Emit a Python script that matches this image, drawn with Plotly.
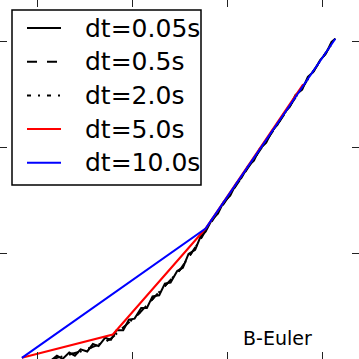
import plotly.graph_objects as go

# ---- data (axis units arbitrary, tick labels are cropped) ----
x_dt005 = [0.13, 0.20, 0.26, 0.33, 0.39, 0.45, 0.52, 0.58, 0.64, 0.71, 0.77, 0.83, 0.90,
           0.96, 1.02, 1.09, 1.15, 1.21, 1.28, 1.34, 1.40, 1.47, 1.53, 1.59, 1.66, 1.72,
           1.77, 1.84, 1.90, 1.96, 2.03, 2.09, 2.15, 2.22, 2.28, 2.34, 2.41, 2.47, 2.53,
           2.60, 2.66, 2.72, 2.79, 2.85, 2.91, 2.98, 3.04, 3.10, 3.14]
y_dt005 = [-1.01, -0.96, -0.99, -0.93, -0.96, -0.90, -0.92, -0.85, -0.87, -0.79, -0.81,
           -0.72, -0.72, -0.62, -0.61, -0.51, -0.51, -0.40, -0.39, -0.28, -0.27, -0.16,
           -0.13, 0.00, 0.04, 0.17, 0.21, 0.33, 0.38, 0.49, 0.55, 0.66, 0.72, 0.83, 0.88,
           0.99, 1.05, 1.16, 1.22, 1.33, 1.39, 1.50, 1.55, 1.67, 1.72, 1.83, 1.89, 2.00, 2.03]

x_dt05 = [0.13, 0.20, 0.45, 0.63, 0.77, 1.08, 1.50, 1.69, 1.77, 3.14]
y_dt05 = [-1.01, -0.98, -0.92, -0.86, -0.80, -0.55, -0.15, 0.10, 0.22, 2.03]

x_dt20 = [0.13, 0.20, 0.45, 0.63, 0.77, 1.08, 1.50, 1.69, 1.77, 3.14]
y_dt20 = [-1.01, -0.98, -0.92, -0.86, -0.80, -0.55, -0.15, 0.10, 0.23, 2.03]

x_dt50 = [-0.17, 0.79, 1.77, 2.80]
y_dt50 = [-0.98, -0.76, 0.24, 1.60]

x_dt100 = [-0.17, 1.77, 3.14]
y_dt100 = [-0.98, 0.24, 2.03]

labels = ["dt=0.05s", "dt=0.5s", "dt=2.0s", "dt=5.0s", "dt=10.0s"]
colors = ["black", "black", "black", "#ff0000", "#0000ff"]
dashes = ["solid", "10px,10px", "4px,7px,2px,7px", "solid", "solid"]
xs_all = [x_dt005, x_dt05, x_dt20, x_dt50, x_dt100]
ys_all = [y_dt005, y_dt05, y_dt20, y_dt50, y_dt100]

x_ticks = [0, 1, 2, 3]
y_ticks = [0, 1, 2]

W = H = 359

fig = go.Figure()
for name, xs, ys, col, dash in zip(labels, xs_all, ys_all, colors, dashes):
    fig.add_trace(go.Scatter(x=xs, y=ys, mode="lines", name=name, showlegend=False,
                             line=dict(color=col, width=2, dash=dash)))

axis_common = dict(showgrid=False, zeroline=False, showline=False, showticklabels=False,
                   ticks="inside", ticklen=7, tickwidth=1, tickcolor="#222",
                   mirror="ticks", tickmode="array")
fig.update_xaxes(range=[-0.401, 3.390], tickvals=x_ticks, **axis_common)
fig.update_yaxes(range=[-0.991, 2.396], tickvals=y_ticks, **axis_common)

# ---- legend (matplotlib-style boxed legend) ----
def px(v):
    return v / W

def py(v):
    return 1 - v / H

shapes = [dict(type="rect", xref="paper", yref="paper",
               x0=px(12), x1=px(201), y0=py(185), y1=py(10),
               line=dict(color="black", width=1.5), fillcolor="white", layer="above")]
annotations = []
for i, (name, col, dash) in enumerate(zip(labels, colors, dashes)):
    yc = 28 + 33.7 * i
    shapes.append(dict(type="line", xref="paper", yref="paper",
                       x0=px(27), x1=px(61), y0=py(yc), y1=py(yc),
                       line=dict(color=col, width=2, dash=dash), layer="above"))
    annotations.append(dict(text=name, xref="paper", yref="paper", x=px(83), y=py(yc),
                            xanchor="left", yanchor="middle", showarrow=False,
                            font=dict(family="DejaVu Sans", size=25, color="black")))

annotations.append(dict(text="B-Euler", xref="paper", yref="paper", x=0.772, y=0.058,
                        xanchor="center", yanchor="middle", showarrow=False,
                        font=dict(family="DejaVu Sans", size=19, color="black")))

fig.update_layout(
    width=W, height=H,
    margin=dict(l=0, r=0, t=0, b=0),
    paper_bgcolor="white", plot_bgcolor="white",
    showlegend=False,
    shapes=shapes,
    annotations=annotations,
)

fig.write_html("out.html", config={"displayModeBar": False},
               post_script="document.body.style.margin='0';document.body.style.overflow='hidden';")
